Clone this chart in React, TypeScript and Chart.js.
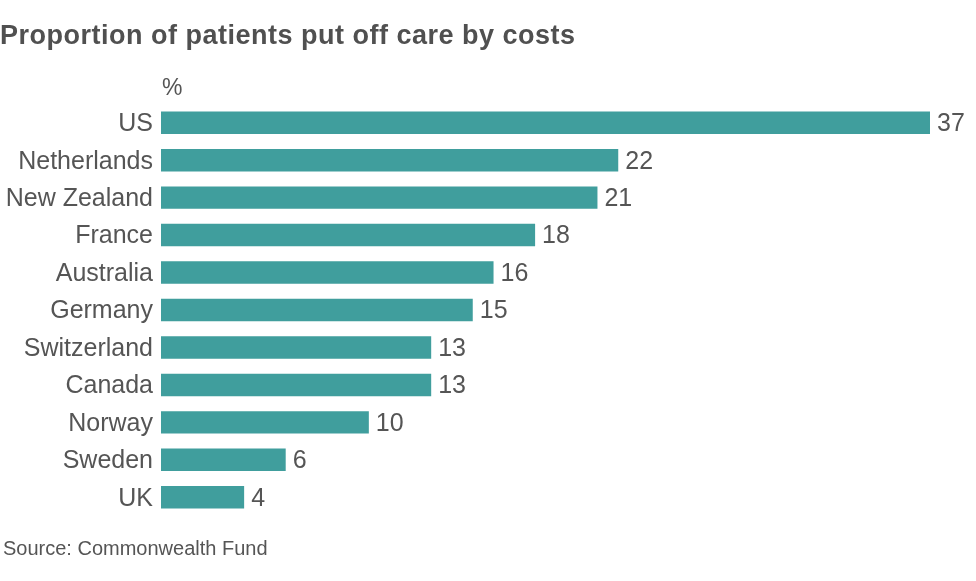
import React, { useEffect, useRef } from "react";
import { Chart, registerables } from "chart.js";

Chart.register(...registerables);

const categories = [
  "US",
  "Netherlands",
  "New Zealand",
  "France",
  "Australia",
  "Germany",
  "Switzerland",
  "Canada",
  "Norway",
  "Sweden",
  "UK",
];
const values = [37, 22, 21, 18, 16, 15, 13, 13, 10, 6, 4];

const titleText = "Proportion of patients put off care by costs";
const unitText = "%";
const sourceText = "Source: Commonwealth Fund";

const FONT = "'Liberation Sans', Arial, Helvetica, sans-serif";
const TEXT = "#555555";
const BAR = "#409e9d";

const extrasPlugin = {
  id: "extras",
  afterDatasetsDraw(chart: any) {
    const { ctx, chartArea } = chart;
    ctx.save();
    // value labels
    const meta = chart.getDatasetMeta(0);
    ctx.font = `25px ${FONT}`;
    ctx.fillStyle = TEXT;
    ctx.textAlign = "left";
    ctx.textBaseline = "middle";
    meta.data.forEach((bar: any, i: number) => {
      ctx.fillText(String(values[i]), bar.x + 7, bar.y + 1.5);
    });
    // title
    ctx.font = `bold 27px ${FONT}`;
    ctx.fillStyle = "#505050";
    ctx.textBaseline = "alphabetic";
    (ctx as any).letterSpacing = "0.5px";
    ctx.fillText(titleText, 0, 44);
    (ctx as any).letterSpacing = "0px";
    // unit
    ctx.font = `23px ${FONT}`;
    ctx.fillStyle = TEXT;
    ctx.fillText(unitText, chartArea.left + 1, 95);
    // source
    ctx.font = `20px ${FONT}`;
    ctx.fillText(sourceText, 3, 555);
    ctx.restore();
  },
};

export default function App() {
  const ref = useRef<HTMLCanvasElement | null>(null);
  useEffect(() => {
    if (!ref.current) return;
    const chart = new Chart(ref.current, {
      type: "bar",
      data: {
        labels: categories,
        datasets: [
          {
            data: values,
            backgroundColor: BAR,
            borderWidth: 0,
            barPercentage: 0.6,
            categoryPercentage: 1,
          },
        ],
      },
      options: {
        indexAxis: "y",
        animation: false,
        responsive: false,
        devicePixelRatio: 1,
        layout: { padding: { top: 104, bottom: 65, left: 0, right: 46 } },
        plugins: {
          legend: { display: false },
          tooltip: { enabled: false },
          title: { display: false },
        },
        scales: {
          x: { display: false, min: 0, max: 37 },
          y: {
            grid: { display: false, drawTicks: false },
            border: { display: false },
            ticks: {
              color: TEXT,
              padding: 8,
              labelOffset: 1.5,
              font: { family: FONT, size: 25 },
            },
            afterFit(scale: any) {
              scale.width = 161;
            },
          },
        },
      },
      plugins: [extrasPlugin],
    });
    return () => chart.destroy();
  }, []);
  return (
    <div style={{ position: "absolute", left: 0, top: 0, width: 976, height: 581, background: "#fff" }}>
      <canvas ref={ref} width={976} height={581} />
    </div>
  );
}
